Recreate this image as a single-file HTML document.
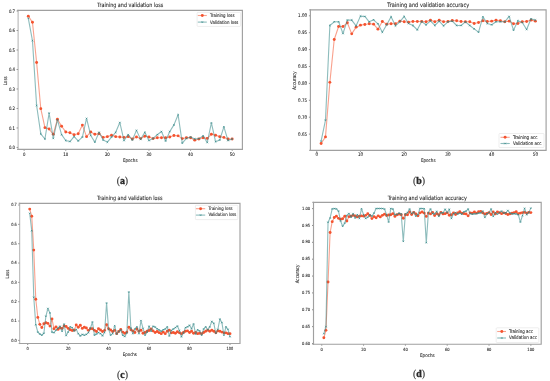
<!DOCTYPE html>
<html><head><meta charset="utf-8"><title>Training and validation curves</title>
<style>
html,body{margin:0;padding:0;background:#fff;}
body{width:550px;height:381px;overflow:hidden;}
svg{display:block;}
svg text{font-family:'DejaVu Sans', 'Liberation Sans', sans-serif;fill:#2a2a2a;stroke:#2a2a2a;stroke-width:0.1px;}
</style></head><body>
<svg width="550" height="381" viewBox="0 0 550 381">
<rect width="550" height="381" fill="#fff"/>
<line x1="16.60" y1="147.45" x2="18.10" y2="147.45" stroke="#606060" stroke-width="0.7"/>
<text x="15.10" y="149.15" text-anchor="end" font-size="4.680" textLength="6.203" lengthAdjust="spacingAndGlyphs">0.0</text>
<line x1="16.60" y1="127.96" x2="18.10" y2="127.96" stroke="#606060" stroke-width="0.7"/>
<text x="15.10" y="129.66" text-anchor="end" font-size="4.680" textLength="6.203" lengthAdjust="spacingAndGlyphs">0.1</text>
<line x1="16.60" y1="108.47" x2="18.10" y2="108.47" stroke="#606060" stroke-width="0.7"/>
<text x="15.10" y="110.17" text-anchor="end" font-size="4.680" textLength="6.203" lengthAdjust="spacingAndGlyphs">0.2</text>
<line x1="16.60" y1="88.98" x2="18.10" y2="88.98" stroke="#606060" stroke-width="0.7"/>
<text x="15.10" y="90.68" text-anchor="end" font-size="4.680" textLength="6.203" lengthAdjust="spacingAndGlyphs">0.3</text>
<line x1="16.60" y1="69.49" x2="18.10" y2="69.49" stroke="#606060" stroke-width="0.7"/>
<text x="15.10" y="71.19" text-anchor="end" font-size="4.680" textLength="6.203" lengthAdjust="spacingAndGlyphs">0.4</text>
<line x1="16.60" y1="50.00" x2="18.10" y2="50.00" stroke="#606060" stroke-width="0.7"/>
<text x="15.10" y="51.70" text-anchor="end" font-size="4.680" textLength="6.203" lengthAdjust="spacingAndGlyphs">0.5</text>
<line x1="16.60" y1="30.51" x2="18.10" y2="30.51" stroke="#606060" stroke-width="0.7"/>
<text x="15.10" y="32.21" text-anchor="end" font-size="4.680" textLength="6.203" lengthAdjust="spacingAndGlyphs">0.6</text>
<line x1="16.60" y1="11.02" x2="18.10" y2="11.02" stroke="#606060" stroke-width="0.7"/>
<text x="15.10" y="12.72" text-anchor="end" font-size="4.680" textLength="6.203" lengthAdjust="spacingAndGlyphs">0.7</text>
<line x1="24.13" y1="149.30" x2="24.13" y2="150.80" stroke="#606060" stroke-width="0.7"/>
<text x="24.13" y="155.60" text-anchor="middle" font-size="4.680" textLength="2.481" lengthAdjust="spacingAndGlyphs">0</text>
<line x1="65.75" y1="149.30" x2="65.75" y2="150.80" stroke="#606060" stroke-width="0.7"/>
<text x="65.75" y="155.60" text-anchor="middle" font-size="4.680" textLength="4.963" lengthAdjust="spacingAndGlyphs">10</text>
<line x1="107.36" y1="149.30" x2="107.36" y2="150.80" stroke="#606060" stroke-width="0.7"/>
<text x="107.36" y="155.60" text-anchor="middle" font-size="4.680" textLength="4.963" lengthAdjust="spacingAndGlyphs">20</text>
<line x1="148.98" y1="149.30" x2="148.98" y2="150.80" stroke="#606060" stroke-width="0.7"/>
<text x="148.98" y="155.60" text-anchor="middle" font-size="4.680" textLength="4.963" lengthAdjust="spacingAndGlyphs">30</text>
<line x1="190.59" y1="149.30" x2="190.59" y2="150.80" stroke="#606060" stroke-width="0.7"/>
<text x="190.59" y="155.60" text-anchor="middle" font-size="4.680" textLength="4.963" lengthAdjust="spacingAndGlyphs">40</text>
<line x1="232.20" y1="149.30" x2="232.20" y2="150.80" stroke="#606060" stroke-width="0.7"/>
<text x="232.20" y="155.60" text-anchor="middle" font-size="4.680" textLength="4.963" lengthAdjust="spacingAndGlyphs">50</text>
<text x="130.25" y="161.98" text-anchor="middle" font-size="4.920" textLength="14.691" lengthAdjust="spacingAndGlyphs">Epochs</text>
<text transform="translate(6.58,80.85) rotate(-90)" text-anchor="middle" font-size="4.920" textLength="8.993" lengthAdjust="spacingAndGlyphs">Loss</text>
<text x="130.25" y="7.25" text-anchor="middle" font-size="5.820" textLength="66.135" lengthAdjust="spacingAndGlyphs">Training and validation loss</text>
<polyline fill="none" stroke="#f4532f" stroke-opacity="0.55" stroke-width="1.1" stroke-linejoin="round" points="28.30,16.15 32.46,22.22 36.62,62.51 40.78,108.67 44.94,127.64 49.10,129.01 53.26,134.29 57.43,119.23 61.59,126.28 65.75,131.95 69.91,132.73 74.07,134.69 78.23,133.71 82.39,125.10 86.56,136.64 90.72,131.95 94.88,134.29 99.04,133.71 103.20,137.42 107.36,136.64 111.52,135.27 115.69,136.64 119.85,137.03 124.01,137.42 128.17,136.64 132.33,138.99 136.49,137.03 140.65,138.60 144.81,136.25 148.98,137.03 153.14,138.60 157.30,137.82 161.46,137.82 165.62,137.82 169.78,137.03 173.94,135.47 178.11,135.86 182.27,138.60 186.43,137.82 190.59,137.82 194.75,140.16 198.91,138.99 203.07,137.82 207.24,138.40 211.40,134.29 215.56,135.27 219.72,136.64 223.88,137.42 228.04,138.99 232.20,138.99"/>
<circle cx="28.30" cy="16.15" r="1.45" fill="#f4532f"/>
<circle cx="32.46" cy="22.22" r="1.45" fill="#f4532f"/>
<circle cx="36.62" cy="62.51" r="1.45" fill="#f4532f"/>
<circle cx="40.78" cy="108.67" r="1.45" fill="#f4532f"/>
<circle cx="44.94" cy="127.64" r="1.45" fill="#f4532f"/>
<circle cx="49.10" cy="129.01" r="1.45" fill="#f4532f"/>
<circle cx="53.26" cy="134.29" r="1.45" fill="#f4532f"/>
<circle cx="57.43" cy="119.23" r="1.45" fill="#f4532f"/>
<circle cx="61.59" cy="126.28" r="1.45" fill="#f4532f"/>
<circle cx="65.75" cy="131.95" r="1.45" fill="#f4532f"/>
<circle cx="69.91" cy="132.73" r="1.45" fill="#f4532f"/>
<circle cx="74.07" cy="134.69" r="1.45" fill="#f4532f"/>
<circle cx="78.23" cy="133.71" r="1.45" fill="#f4532f"/>
<circle cx="82.39" cy="125.10" r="1.45" fill="#f4532f"/>
<circle cx="86.56" cy="136.64" r="1.45" fill="#f4532f"/>
<circle cx="90.72" cy="131.95" r="1.45" fill="#f4532f"/>
<circle cx="94.88" cy="134.29" r="1.45" fill="#f4532f"/>
<circle cx="99.04" cy="133.71" r="1.45" fill="#f4532f"/>
<circle cx="103.20" cy="137.42" r="1.45" fill="#f4532f"/>
<circle cx="107.36" cy="136.64" r="1.45" fill="#f4532f"/>
<circle cx="111.52" cy="135.27" r="1.45" fill="#f4532f"/>
<circle cx="115.69" cy="136.64" r="1.45" fill="#f4532f"/>
<circle cx="119.85" cy="137.03" r="1.45" fill="#f4532f"/>
<circle cx="124.01" cy="137.42" r="1.45" fill="#f4532f"/>
<circle cx="128.17" cy="136.64" r="1.45" fill="#f4532f"/>
<circle cx="132.33" cy="138.99" r="1.45" fill="#f4532f"/>
<circle cx="136.49" cy="137.03" r="1.45" fill="#f4532f"/>
<circle cx="140.65" cy="138.60" r="1.45" fill="#f4532f"/>
<circle cx="144.81" cy="136.25" r="1.45" fill="#f4532f"/>
<circle cx="148.98" cy="137.03" r="1.45" fill="#f4532f"/>
<circle cx="153.14" cy="138.60" r="1.45" fill="#f4532f"/>
<circle cx="157.30" cy="137.82" r="1.45" fill="#f4532f"/>
<circle cx="161.46" cy="137.82" r="1.45" fill="#f4532f"/>
<circle cx="165.62" cy="137.82" r="1.45" fill="#f4532f"/>
<circle cx="169.78" cy="137.03" r="1.45" fill="#f4532f"/>
<circle cx="173.94" cy="135.47" r="1.45" fill="#f4532f"/>
<circle cx="178.11" cy="135.86" r="1.45" fill="#f4532f"/>
<circle cx="182.27" cy="138.60" r="1.45" fill="#f4532f"/>
<circle cx="186.43" cy="137.82" r="1.45" fill="#f4532f"/>
<circle cx="190.59" cy="137.82" r="1.45" fill="#f4532f"/>
<circle cx="194.75" cy="140.16" r="1.45" fill="#f4532f"/>
<circle cx="198.91" cy="138.99" r="1.45" fill="#f4532f"/>
<circle cx="203.07" cy="137.82" r="1.45" fill="#f4532f"/>
<circle cx="207.24" cy="138.40" r="1.45" fill="#f4532f"/>
<circle cx="211.40" cy="134.29" r="1.45" fill="#f4532f"/>
<circle cx="215.56" cy="135.27" r="1.45" fill="#f4532f"/>
<circle cx="219.72" cy="136.64" r="1.45" fill="#f4532f"/>
<circle cx="223.88" cy="137.42" r="1.45" fill="#f4532f"/>
<circle cx="228.04" cy="138.99" r="1.45" fill="#f4532f"/>
<circle cx="232.20" cy="138.99" r="1.45" fill="#f4532f"/>
<polyline fill="none" stroke="#2f8585" stroke-opacity="0.55" stroke-width="1.1" stroke-linejoin="round" points="28.30,18.30 32.46,40.60 36.62,105.54 40.78,133.90 44.94,138.99 49.10,113.17 53.26,138.40 57.43,119.82 61.59,134.69 65.75,140.55 69.91,141.53 74.07,136.64 78.23,140.95 82.39,137.03 86.56,118.45 90.72,135.47 94.88,142.12 99.04,132.34 103.20,139.97 107.36,142.12 111.52,137.03 115.69,132.34 119.85,122.56 124.01,140.55 128.17,134.69 132.33,139.97 136.49,130.38 140.65,139.38 144.81,132.34 148.98,140.55 153.14,138.40 157.30,134.69 161.46,131.56 165.62,140.95 169.78,131.56 173.94,124.91 178.11,114.73 182.27,143.10 186.43,138.40 190.59,137.03 194.75,138.99 198.91,138.60 203.07,135.86 207.24,142.51 211.40,122.95 215.56,141.73 219.72,139.97 223.88,126.86 228.04,140.55 232.20,138.99"/>
<path d="M27.50 17.50L29.10 19.10M27.50 19.10L29.10 17.50M31.66 39.80L33.26 41.40M31.66 41.40L33.26 39.80M35.82 104.74L37.42 106.34M35.82 106.34L37.42 104.74M39.98 133.10L41.58 134.70M39.98 134.70L41.58 133.10M44.14 138.19L45.74 139.79M44.14 139.79L45.74 138.19M48.30 112.37L49.90 113.97M48.30 113.97L49.90 112.37M52.46 137.60L54.06 139.20M52.46 139.20L54.06 137.60M56.63 119.02L58.23 120.62M56.63 120.62L58.23 119.02M60.79 133.89L62.39 135.49M60.79 135.49L62.39 133.89M64.95 139.75L66.55 141.35M64.95 141.35L66.55 139.75M69.11 140.73L70.71 142.33M69.11 142.33L70.71 140.73M73.27 135.84L74.87 137.44M73.27 137.44L74.87 135.84M77.43 140.15L79.03 141.75M77.43 141.75L79.03 140.15M81.59 136.23L83.19 137.83M81.59 137.83L83.19 136.23M85.76 117.65L87.36 119.25M85.76 119.25L87.36 117.65M89.92 134.67L91.52 136.27M89.92 136.27L91.52 134.67M94.08 141.32L95.68 142.92M94.08 142.92L95.68 141.32M98.24 131.54L99.84 133.14M98.24 133.14L99.84 131.54M102.40 139.17L104.00 140.77M102.40 140.77L104.00 139.17M106.56 141.32L108.16 142.92M106.56 142.92L108.16 141.32M110.72 136.23L112.32 137.83M110.72 137.83L112.32 136.23M114.89 131.54L116.49 133.14M114.89 133.14L116.49 131.54M119.05 121.76L120.65 123.36M119.05 123.36L120.65 121.76M123.21 139.75L124.81 141.35M123.21 141.35L124.81 139.75M127.37 133.89L128.97 135.49M127.37 135.49L128.97 133.89M131.53 139.17L133.13 140.77M131.53 140.77L133.13 139.17M135.69 129.58L137.29 131.18M135.69 131.18L137.29 129.58M139.85 138.58L141.45 140.18M139.85 140.18L141.45 138.58M144.01 131.54L145.61 133.14M144.01 133.14L145.61 131.54M148.18 139.75L149.78 141.35M148.18 141.35L149.78 139.75M152.34 137.60L153.94 139.20M152.34 139.20L153.94 137.60M156.50 133.89L158.10 135.49M156.50 135.49L158.10 133.89M160.66 130.76L162.26 132.36M160.66 132.36L162.26 130.76M164.82 140.15L166.42 141.75M164.82 141.75L166.42 140.15M168.98 130.76L170.58 132.36M168.98 132.36L170.58 130.76M173.14 124.11L174.74 125.71M173.14 125.71L174.74 124.11M177.31 113.93L178.91 115.53M177.31 115.53L178.91 113.93M181.47 142.30L183.07 143.90M181.47 143.90L183.07 142.30M185.63 137.60L187.23 139.20M185.63 139.20L187.23 137.60M189.79 136.23L191.39 137.83M189.79 137.83L191.39 136.23M193.95 138.19L195.55 139.79M193.95 139.79L195.55 138.19M198.11 137.80L199.71 139.40M198.11 139.40L199.71 137.80M202.27 135.06L203.87 136.66M202.27 136.66L203.87 135.06M206.44 141.71L208.04 143.31M206.44 143.31L208.04 141.71M210.60 122.15L212.20 123.75M210.60 123.75L212.20 122.15M214.76 140.93L216.36 142.53M214.76 142.53L216.36 140.93M218.92 139.17L220.52 140.77M218.92 140.77L220.52 139.17M223.08 126.06L224.68 127.66M223.08 127.66L224.68 126.06M227.24 139.75L228.84 141.35M227.24 141.35L228.84 139.75M231.40 138.19L233.00 139.79M231.40 139.79L233.00 138.19" stroke="#2f8585" stroke-width="0.6" fill="none"/>
<rect x="197.1" y="12.4" width="43.5" height="13.999999999999998" rx="0.8" fill="#fff" fill-opacity="0.85" stroke="#dcdcdc" stroke-width="0.5"/>
<line x1="197.8" y1="15.5" x2="206.8" y2="15.5" stroke="#f4532f" stroke-opacity="0.55" stroke-width="1.1"/>
<circle cx="202.3" cy="15.5" r="1.45" fill="#f4532f"/>
<line x1="197.8" y1="22.1" x2="206.8" y2="22.1" stroke="#2f8585" stroke-opacity="0.55" stroke-width="1.1"/>
<path d="M201.5 21.3L203.10000000000002 22.900000000000002M201.5 22.900000000000002L203.10000000000002 21.3" stroke="#2f8585" stroke-width="0.6"/>
<text x="210.00" y="16.92" font-size="4.740" textLength="24.472" lengthAdjust="spacingAndGlyphs">Training loss</text>
<text x="210.00" y="23.52" font-size="4.740" textLength="28.391" lengthAdjust="spacingAndGlyphs">Validation loss</text>
<path d="M17.68 10.40H242.40V149.30H17.68" fill="none" stroke="#a0a0a0" stroke-width="1.15" stroke-linecap="square"/>
<line x1="18.10" y1="9.83" x2="18.10" y2="149.88" stroke="#a0a0a0" stroke-width="0.85"/>
<text x="122.4" y="183.90" text-anchor="middle" style="font-family:'Liberation Serif', serif" font-size="9.9" fill="#111">(<tspan font-weight="bold" style="stroke-width:0.35px">a</tspan>)</text>
<line x1="308.90" y1="134.10" x2="310.40" y2="134.10" stroke="#606060" stroke-width="0.7"/>
<text x="307.10" y="135.56" text-anchor="end" font-size="4.860" textLength="9.018" lengthAdjust="spacingAndGlyphs">0.65</text>
<line x1="308.90" y1="117.20" x2="310.40" y2="117.20" stroke="#606060" stroke-width="0.7"/>
<text x="307.10" y="118.66" text-anchor="end" font-size="4.860" textLength="9.018" lengthAdjust="spacingAndGlyphs">0.70</text>
<line x1="308.90" y1="100.30" x2="310.40" y2="100.30" stroke="#606060" stroke-width="0.7"/>
<text x="307.10" y="101.76" text-anchor="end" font-size="4.860" textLength="9.018" lengthAdjust="spacingAndGlyphs">0.75</text>
<line x1="308.90" y1="83.40" x2="310.40" y2="83.40" stroke="#606060" stroke-width="0.7"/>
<text x="307.10" y="84.86" text-anchor="end" font-size="4.860" textLength="9.018" lengthAdjust="spacingAndGlyphs">0.80</text>
<line x1="308.90" y1="66.50" x2="310.40" y2="66.50" stroke="#606060" stroke-width="0.7"/>
<text x="307.10" y="67.96" text-anchor="end" font-size="4.860" textLength="9.018" lengthAdjust="spacingAndGlyphs">0.85</text>
<line x1="308.90" y1="49.60" x2="310.40" y2="49.60" stroke="#606060" stroke-width="0.7"/>
<text x="307.10" y="51.06" text-anchor="end" font-size="4.860" textLength="9.018" lengthAdjust="spacingAndGlyphs">0.90</text>
<line x1="308.90" y1="32.70" x2="310.40" y2="32.70" stroke="#606060" stroke-width="0.7"/>
<text x="307.10" y="34.16" text-anchor="end" font-size="4.860" textLength="9.018" lengthAdjust="spacingAndGlyphs">0.95</text>
<line x1="308.90" y1="15.80" x2="310.40" y2="15.80" stroke="#606060" stroke-width="0.7"/>
<text x="307.10" y="17.26" text-anchor="end" font-size="4.860" textLength="9.018" lengthAdjust="spacingAndGlyphs">1.00</text>
<line x1="316.74" y1="150.30" x2="316.74" y2="151.80" stroke="#606060" stroke-width="0.7"/>
<text x="316.74" y="156.26" text-anchor="middle" font-size="4.860" textLength="2.577" lengthAdjust="spacingAndGlyphs">0</text>
<line x1="360.47" y1="150.30" x2="360.47" y2="151.80" stroke="#606060" stroke-width="0.7"/>
<text x="360.47" y="156.26" text-anchor="middle" font-size="4.860" textLength="5.154" lengthAdjust="spacingAndGlyphs">10</text>
<line x1="404.20" y1="150.30" x2="404.20" y2="151.80" stroke="#606060" stroke-width="0.7"/>
<text x="404.20" y="156.26" text-anchor="middle" font-size="4.860" textLength="5.154" lengthAdjust="spacingAndGlyphs">20</text>
<line x1="447.93" y1="150.30" x2="447.93" y2="151.80" stroke="#606060" stroke-width="0.7"/>
<text x="447.93" y="156.26" text-anchor="middle" font-size="4.860" textLength="5.154" lengthAdjust="spacingAndGlyphs">30</text>
<line x1="491.66" y1="150.30" x2="491.66" y2="151.80" stroke="#606060" stroke-width="0.7"/>
<text x="491.66" y="156.26" text-anchor="middle" font-size="4.860" textLength="5.154" lengthAdjust="spacingAndGlyphs">40</text>
<line x1="535.39" y1="150.30" x2="535.39" y2="151.80" stroke="#606060" stroke-width="0.7"/>
<text x="535.39" y="156.26" text-anchor="middle" font-size="4.860" textLength="5.154" lengthAdjust="spacingAndGlyphs">50</text>
<text x="428.25" y="162.48" text-anchor="middle" font-size="4.920" textLength="14.691" lengthAdjust="spacingAndGlyphs">Epochs</text>
<text transform="translate(295.68,80.75) rotate(-90)" text-anchor="middle" font-size="4.920" textLength="18.719" lengthAdjust="spacingAndGlyphs">Accuracy</text>
<text x="428.25" y="6.72" text-anchor="middle" font-size="6.060" textLength="81.892" lengthAdjust="spacingAndGlyphs">Training and validation accuracy</text>
<polyline fill="none" stroke="#f4532f" stroke-opacity="0.55" stroke-width="1.1" stroke-linejoin="round" points="321.11,143.57 325.49,136.88 329.86,82.35 334.23,39.54 338.61,26.49 342.98,26.49 347.35,22.81 351.72,33.85 356.10,27.16 360.47,25.15 364.84,24.48 369.22,23.81 373.59,24.15 377.96,29.17 382.33,21.47 386.71,24.15 391.08,23.81 395.45,23.81 399.83,21.14 404.20,21.81 408.57,22.14 412.94,21.47 417.32,21.47 421.69,21.47 426.06,21.81 430.44,20.13 434.81,21.81 439.18,20.13 443.56,21.81 447.93,21.47 452.30,20.47 456.67,20.80 461.05,21.47 465.42,21.81 469.79,21.81 474.17,23.48 478.54,22.48 482.91,20.80 487.28,21.47 491.66,21.14 496.03,20.13 500.40,20.80 504.78,21.81 509.15,21.14 513.52,23.81 517.89,23.48 522.27,21.81 526.64,21.47 531.01,20.13 535.39,21.14"/>
<circle cx="321.11" cy="143.57" r="1.45" fill="#f4532f"/>
<circle cx="325.49" cy="136.88" r="1.45" fill="#f4532f"/>
<circle cx="329.86" cy="82.35" r="1.45" fill="#f4532f"/>
<circle cx="334.23" cy="39.54" r="1.45" fill="#f4532f"/>
<circle cx="338.61" cy="26.49" r="1.45" fill="#f4532f"/>
<circle cx="342.98" cy="26.49" r="1.45" fill="#f4532f"/>
<circle cx="347.35" cy="22.81" r="1.45" fill="#f4532f"/>
<circle cx="351.72" cy="33.85" r="1.45" fill="#f4532f"/>
<circle cx="356.10" cy="27.16" r="1.45" fill="#f4532f"/>
<circle cx="360.47" cy="25.15" r="1.45" fill="#f4532f"/>
<circle cx="364.84" cy="24.48" r="1.45" fill="#f4532f"/>
<circle cx="369.22" cy="23.81" r="1.45" fill="#f4532f"/>
<circle cx="373.59" cy="24.15" r="1.45" fill="#f4532f"/>
<circle cx="377.96" cy="29.17" r="1.45" fill="#f4532f"/>
<circle cx="382.33" cy="21.47" r="1.45" fill="#f4532f"/>
<circle cx="386.71" cy="24.15" r="1.45" fill="#f4532f"/>
<circle cx="391.08" cy="23.81" r="1.45" fill="#f4532f"/>
<circle cx="395.45" cy="23.81" r="1.45" fill="#f4532f"/>
<circle cx="399.83" cy="21.14" r="1.45" fill="#f4532f"/>
<circle cx="404.20" cy="21.81" r="1.45" fill="#f4532f"/>
<circle cx="408.57" cy="22.14" r="1.45" fill="#f4532f"/>
<circle cx="412.94" cy="21.47" r="1.45" fill="#f4532f"/>
<circle cx="417.32" cy="21.47" r="1.45" fill="#f4532f"/>
<circle cx="421.69" cy="21.47" r="1.45" fill="#f4532f"/>
<circle cx="426.06" cy="21.81" r="1.45" fill="#f4532f"/>
<circle cx="430.44" cy="20.13" r="1.45" fill="#f4532f"/>
<circle cx="434.81" cy="21.81" r="1.45" fill="#f4532f"/>
<circle cx="439.18" cy="20.13" r="1.45" fill="#f4532f"/>
<circle cx="443.56" cy="21.81" r="1.45" fill="#f4532f"/>
<circle cx="447.93" cy="21.47" r="1.45" fill="#f4532f"/>
<circle cx="452.30" cy="20.47" r="1.45" fill="#f4532f"/>
<circle cx="456.67" cy="20.80" r="1.45" fill="#f4532f"/>
<circle cx="461.05" cy="21.47" r="1.45" fill="#f4532f"/>
<circle cx="465.42" cy="21.81" r="1.45" fill="#f4532f"/>
<circle cx="469.79" cy="21.81" r="1.45" fill="#f4532f"/>
<circle cx="474.17" cy="23.48" r="1.45" fill="#f4532f"/>
<circle cx="478.54" cy="22.48" r="1.45" fill="#f4532f"/>
<circle cx="482.91" cy="20.80" r="1.45" fill="#f4532f"/>
<circle cx="487.28" cy="21.47" r="1.45" fill="#f4532f"/>
<circle cx="491.66" cy="21.14" r="1.45" fill="#f4532f"/>
<circle cx="496.03" cy="20.13" r="1.45" fill="#f4532f"/>
<circle cx="500.40" cy="20.80" r="1.45" fill="#f4532f"/>
<circle cx="504.78" cy="21.81" r="1.45" fill="#f4532f"/>
<circle cx="509.15" cy="21.14" r="1.45" fill="#f4532f"/>
<circle cx="513.52" cy="23.81" r="1.45" fill="#f4532f"/>
<circle cx="517.89" cy="23.48" r="1.45" fill="#f4532f"/>
<circle cx="522.27" cy="21.81" r="1.45" fill="#f4532f"/>
<circle cx="526.64" cy="21.47" r="1.45" fill="#f4532f"/>
<circle cx="531.01" cy="20.13" r="1.45" fill="#f4532f"/>
<circle cx="535.39" cy="21.14" r="1.45" fill="#f4532f"/>
<polyline fill="none" stroke="#2f8585" stroke-opacity="0.55" stroke-width="1.1" stroke-linejoin="round" points="321.11,141.22 325.49,120.15 329.86,25.49 334.23,21.81 338.61,21.81 342.98,33.51 347.35,20.13 351.72,20.13 356.10,25.82 360.47,16.12 364.84,16.46 369.22,21.81 373.59,19.80 377.96,23.81 382.33,32.18 386.71,24.82 391.08,16.79 395.45,25.82 399.83,21.81 404.20,16.46 408.57,23.48 412.94,25.49 417.32,29.84 421.69,21.47 426.06,24.82 430.44,20.80 434.81,25.49 439.18,21.14 443.56,25.82 447.93,21.81 452.30,21.14 456.67,25.49 461.05,25.49 465.42,21.81 469.79,25.49 474.17,28.83 478.54,32.18 482.91,16.79 487.28,23.48 491.66,24.82 496.03,21.81 500.40,21.81 504.78,21.81 509.15,16.46 513.52,30.17 517.89,20.80 522.27,22.48 526.64,29.50 531.01,18.80 535.39,20.13"/>
<path d="M320.31 140.42L321.91 142.02M320.31 142.02L321.91 140.42M324.69 119.35L326.29 120.95M324.69 120.95L326.29 119.35M329.06 24.69L330.66 26.29M329.06 26.29L330.66 24.69M333.43 21.01L335.03 22.61M333.43 22.61L335.03 21.01M337.81 21.01L339.41 22.61M337.81 22.61L339.41 21.01M342.18 32.71L343.78 34.31M342.18 34.31L343.78 32.71M346.55 19.33L348.15 20.93M346.55 20.93L348.15 19.33M350.92 19.33L352.52 20.93M350.92 20.93L352.52 19.33M355.30 25.02L356.90 26.62M355.30 26.62L356.90 25.02M359.67 15.32L361.27 16.92M359.67 16.92L361.27 15.32M364.04 15.66L365.64 17.26M364.04 17.26L365.64 15.66M368.42 21.01L370.02 22.61M368.42 22.61L370.02 21.01M372.79 19.00L374.39 20.60M372.79 20.60L374.39 19.00M377.16 23.01L378.76 24.61M377.16 24.61L378.76 23.01M381.53 31.38L383.13 32.98M381.53 32.98L383.13 31.38M385.91 24.02L387.51 25.62M385.91 25.62L387.51 24.02M390.28 15.99L391.88 17.59M390.28 17.59L391.88 15.99M394.65 25.02L396.25 26.62M394.65 26.62L396.25 25.02M399.03 21.01L400.63 22.61M399.03 22.61L400.63 21.01M403.40 15.66L405.00 17.26M403.40 17.26L405.00 15.66M407.77 22.68L409.37 24.28M407.77 24.28L409.37 22.68M412.14 24.69L413.74 26.29M412.14 26.29L413.74 24.69M416.52 29.04L418.12 30.64M416.52 30.64L418.12 29.04M420.89 20.67L422.49 22.27M420.89 22.27L422.49 20.67M425.26 24.02L426.86 25.62M425.26 25.62L426.86 24.02M429.64 20.00L431.24 21.60M429.64 21.60L431.24 20.00M434.01 24.69L435.61 26.29M434.01 26.29L435.61 24.69M438.38 20.34L439.98 21.94M438.38 21.94L439.98 20.34M442.76 25.02L444.36 26.62M442.76 26.62L444.36 25.02M447.13 21.01L448.73 22.61M447.13 22.61L448.73 21.01M451.50 20.34L453.10 21.94M451.50 21.94L453.10 20.34M455.87 24.69L457.47 26.29M455.87 26.29L457.47 24.69M460.25 24.69L461.85 26.29M460.25 26.29L461.85 24.69M464.62 21.01L466.22 22.61M464.62 22.61L466.22 21.01M468.99 24.69L470.59 26.29M468.99 26.29L470.59 24.69M473.37 28.03L474.97 29.63M473.37 29.63L474.97 28.03M477.74 31.38L479.34 32.98M477.74 32.98L479.34 31.38M482.11 15.99L483.71 17.59M482.11 17.59L483.71 15.99M486.48 22.68L488.08 24.28M486.48 24.28L488.08 22.68M490.86 24.02L492.46 25.62M490.86 25.62L492.46 24.02M495.23 21.01L496.83 22.61M495.23 22.61L496.83 21.01M499.60 21.01L501.20 22.61M499.60 22.61L501.20 21.01M503.98 21.01L505.58 22.61M503.98 22.61L505.58 21.01M508.35 15.66L509.95 17.26M508.35 17.26L509.95 15.66M512.72 29.37L514.32 30.97M512.72 30.97L514.32 29.37M517.09 20.00L518.69 21.60M517.09 21.60L518.69 20.00M521.47 21.68L523.07 23.28M521.47 23.28L523.07 21.68M525.84 28.70L527.44 30.30M525.84 30.30L527.44 28.70M530.21 18.00L531.81 19.60M530.21 19.60L531.81 18.00M534.59 19.33L536.19 20.93M534.59 20.93L536.19 19.33" stroke="#2f8585" stroke-width="0.6" fill="none"/>
<rect x="499.0" y="133.5" width="45.0" height="14.0" rx="0.8" fill="#fff" fill-opacity="0.85" stroke="#dcdcdc" stroke-width="0.5"/>
<line x1="500.5" y1="137.3" x2="509.8" y2="137.3" stroke="#f4532f" stroke-opacity="0.55" stroke-width="1.1"/>
<circle cx="505.1" cy="137.3" r="1.45" fill="#f4532f"/>
<line x1="500.5" y1="143.5" x2="509.8" y2="143.5" stroke="#2f8585" stroke-opacity="0.55" stroke-width="1.1"/>
<path d="M504.3 142.7L505.90000000000003 144.3M504.3 144.3L505.90000000000003 142.7" stroke="#2f8585" stroke-width="0.6"/>
<text x="513.00" y="138.78" font-size="4.920" textLength="24.503" lengthAdjust="spacingAndGlyphs">Training acc</text>
<text x="513.00" y="144.98" font-size="4.920" textLength="28.570" lengthAdjust="spacingAndGlyphs">Validation acc</text>
<path d="M309.82 9.80H546.10V150.30H309.82" fill="none" stroke="#a0a0a0" stroke-width="1.15" stroke-linecap="square"/>
<line x1="310.40" y1="9.23" x2="310.40" y2="150.88" stroke="#a0a0a0" stroke-width="1.15"/>
<text x="419.0" y="183.90" text-anchor="middle" style="font-family:'Liberation Serif', serif" font-size="9.9" fill="#111">(<tspan font-weight="bold" style="stroke-width:0.35px">b</tspan>)</text>
<line x1="18.20" y1="340.40" x2="19.70" y2="340.40" stroke="#606060" stroke-width="0.7"/>
<text x="16.80" y="341.58" text-anchor="end" font-size="4.260" textLength="5.646" lengthAdjust="spacingAndGlyphs">0.0</text>
<line x1="18.20" y1="321.06" x2="19.70" y2="321.06" stroke="#606060" stroke-width="0.7"/>
<text x="16.80" y="322.24" text-anchor="end" font-size="4.260" textLength="5.646" lengthAdjust="spacingAndGlyphs">0.1</text>
<line x1="18.20" y1="301.72" x2="19.70" y2="301.72" stroke="#606060" stroke-width="0.7"/>
<text x="16.80" y="302.90" text-anchor="end" font-size="4.260" textLength="5.646" lengthAdjust="spacingAndGlyphs">0.2</text>
<line x1="18.20" y1="282.38" x2="19.70" y2="282.38" stroke="#606060" stroke-width="0.7"/>
<text x="16.80" y="283.56" text-anchor="end" font-size="4.260" textLength="5.646" lengthAdjust="spacingAndGlyphs">0.3</text>
<line x1="18.20" y1="263.04" x2="19.70" y2="263.04" stroke="#606060" stroke-width="0.7"/>
<text x="16.80" y="264.22" text-anchor="end" font-size="4.260" textLength="5.646" lengthAdjust="spacingAndGlyphs">0.4</text>
<line x1="18.20" y1="243.70" x2="19.70" y2="243.70" stroke="#606060" stroke-width="0.7"/>
<text x="16.80" y="244.88" text-anchor="end" font-size="4.260" textLength="5.646" lengthAdjust="spacingAndGlyphs">0.5</text>
<line x1="18.20" y1="224.36" x2="19.70" y2="224.36" stroke="#606060" stroke-width="0.7"/>
<text x="16.80" y="225.54" text-anchor="end" font-size="4.260" textLength="5.646" lengthAdjust="spacingAndGlyphs">0.6</text>
<line x1="18.20" y1="205.02" x2="19.70" y2="205.02" stroke="#606060" stroke-width="0.7"/>
<text x="16.80" y="206.20" text-anchor="end" font-size="4.260" textLength="5.646" lengthAdjust="spacingAndGlyphs">0.7</text>
<line x1="27.69" y1="343.50" x2="27.69" y2="345.00" stroke="#606060" stroke-width="0.7"/>
<text x="27.69" y="349.58" text-anchor="middle" font-size="4.260" textLength="2.259" lengthAdjust="spacingAndGlyphs">0</text>
<line x1="68.15" y1="343.50" x2="68.15" y2="345.00" stroke="#606060" stroke-width="0.7"/>
<text x="68.15" y="349.58" text-anchor="middle" font-size="4.260" textLength="4.517" lengthAdjust="spacingAndGlyphs">20</text>
<line x1="108.61" y1="343.50" x2="108.61" y2="345.00" stroke="#606060" stroke-width="0.7"/>
<text x="108.61" y="349.58" text-anchor="middle" font-size="4.260" textLength="4.517" lengthAdjust="spacingAndGlyphs">40</text>
<line x1="149.07" y1="343.50" x2="149.07" y2="345.00" stroke="#606060" stroke-width="0.7"/>
<text x="149.07" y="349.58" text-anchor="middle" font-size="4.260" textLength="4.517" lengthAdjust="spacingAndGlyphs">60</text>
<line x1="189.53" y1="343.50" x2="189.53" y2="345.00" stroke="#606060" stroke-width="0.7"/>
<text x="189.53" y="349.58" text-anchor="middle" font-size="4.260" textLength="4.517" lengthAdjust="spacingAndGlyphs">80</text>
<line x1="229.99" y1="343.50" x2="229.99" y2="345.00" stroke="#606060" stroke-width="0.7"/>
<text x="229.99" y="349.58" text-anchor="middle" font-size="4.260" textLength="6.776" lengthAdjust="spacingAndGlyphs">100</text>
<text x="129.85" y="355.82" text-anchor="middle" font-size="4.740" textLength="14.153" lengthAdjust="spacingAndGlyphs">Epochs</text>
<text transform="translate(8.92,274.10) rotate(-90)" text-anchor="middle" font-size="4.740" textLength="8.664" lengthAdjust="spacingAndGlyphs">Loss</text>
<text x="129.85" y="200.23" text-anchor="middle" font-size="5.760" textLength="65.453" lengthAdjust="spacingAndGlyphs">Training and validation loss</text>
<polyline fill="none" stroke="#f4532f" stroke-opacity="0.55" stroke-width="1.1" stroke-linejoin="round" points="29.71,209.08 31.74,216.24 33.76,250.08 35.78,299.21 37.81,317.39 39.83,324.35 41.85,327.44 43.87,323.77 45.90,322.80 47.92,323.38 49.94,326.09 51.97,318.93 53.99,328.80 56.01,326.86 58.04,329.38 60.06,328.02 62.08,328.41 64.10,325.89 66.13,326.48 68.15,328.41 70.17,329.76 72.20,330.54 74.22,330.15 76.24,324.93 78.26,327.25 80.29,325.31 82.31,328.41 84.33,327.25 86.36,328.02 88.38,330.34 90.40,328.80 92.43,328.80 94.45,330.34 96.47,331.50 98.49,328.80 100.52,329.96 102.54,331.50 104.56,330.34 106.59,324.73 108.61,328.80 110.63,329.96 112.65,331.50 114.68,330.34 116.70,333.63 118.72,331.50 120.75,329.38 122.77,332.08 124.79,333.24 126.82,332.08 128.84,327.25 130.86,329.76 132.88,330.92 134.91,332.47 136.93,328.99 138.95,331.31 140.98,330.15 143.00,333.24 145.02,332.47 147.05,331.31 149.07,330.54 151.09,328.99 153.11,330.92 155.14,332.47 157.16,331.50 159.18,332.66 161.21,333.63 163.23,332.08 165.25,333.63 167.27,331.31 169.30,330.15 171.32,332.86 173.34,332.47 175.37,333.24 177.39,331.70 179.41,332.86 181.44,333.63 183.46,332.47 185.48,331.31 187.50,330.92 189.53,332.47 191.55,331.31 193.57,333.24 195.60,332.47 197.62,333.63 199.64,333.24 201.66,333.63 203.69,332.47 205.71,331.31 207.73,330.15 209.76,331.31 211.78,330.15 213.80,331.31 215.83,332.86 217.85,330.92 219.87,331.31 221.89,332.08 223.92,332.86 225.94,332.86 227.96,333.63 229.99,333.63"/>
<circle cx="29.71" cy="209.08" r="1.45" fill="#f4532f"/>
<circle cx="31.74" cy="216.24" r="1.45" fill="#f4532f"/>
<circle cx="33.76" cy="250.08" r="1.45" fill="#f4532f"/>
<circle cx="35.78" cy="299.21" r="1.45" fill="#f4532f"/>
<circle cx="37.81" cy="317.39" r="1.45" fill="#f4532f"/>
<circle cx="39.83" cy="324.35" r="1.45" fill="#f4532f"/>
<circle cx="41.85" cy="327.44" r="1.45" fill="#f4532f"/>
<circle cx="43.87" cy="323.77" r="1.45" fill="#f4532f"/>
<circle cx="45.90" cy="322.80" r="1.45" fill="#f4532f"/>
<circle cx="47.92" cy="323.38" r="1.45" fill="#f4532f"/>
<circle cx="49.94" cy="326.09" r="1.45" fill="#f4532f"/>
<circle cx="51.97" cy="318.93" r="1.45" fill="#f4532f"/>
<circle cx="53.99" cy="328.80" r="1.45" fill="#f4532f"/>
<circle cx="56.01" cy="326.86" r="1.45" fill="#f4532f"/>
<circle cx="58.04" cy="329.38" r="1.45" fill="#f4532f"/>
<circle cx="60.06" cy="328.02" r="1.45" fill="#f4532f"/>
<circle cx="62.08" cy="328.41" r="1.45" fill="#f4532f"/>
<circle cx="64.10" cy="325.89" r="1.45" fill="#f4532f"/>
<circle cx="66.13" cy="326.48" r="1.45" fill="#f4532f"/>
<circle cx="68.15" cy="328.41" r="1.45" fill="#f4532f"/>
<circle cx="70.17" cy="329.76" r="1.45" fill="#f4532f"/>
<circle cx="72.20" cy="330.54" r="1.45" fill="#f4532f"/>
<circle cx="74.22" cy="330.15" r="1.45" fill="#f4532f"/>
<circle cx="76.24" cy="324.93" r="1.45" fill="#f4532f"/>
<circle cx="78.26" cy="327.25" r="1.45" fill="#f4532f"/>
<circle cx="80.29" cy="325.31" r="1.45" fill="#f4532f"/>
<circle cx="82.31" cy="328.41" r="1.45" fill="#f4532f"/>
<circle cx="84.33" cy="327.25" r="1.45" fill="#f4532f"/>
<circle cx="86.36" cy="328.02" r="1.45" fill="#f4532f"/>
<circle cx="88.38" cy="330.34" r="1.45" fill="#f4532f"/>
<circle cx="90.40" cy="328.80" r="1.45" fill="#f4532f"/>
<circle cx="92.43" cy="328.80" r="1.45" fill="#f4532f"/>
<circle cx="94.45" cy="330.34" r="1.45" fill="#f4532f"/>
<circle cx="96.47" cy="331.50" r="1.45" fill="#f4532f"/>
<circle cx="98.49" cy="328.80" r="1.45" fill="#f4532f"/>
<circle cx="100.52" cy="329.96" r="1.45" fill="#f4532f"/>
<circle cx="102.54" cy="331.50" r="1.45" fill="#f4532f"/>
<circle cx="104.56" cy="330.34" r="1.45" fill="#f4532f"/>
<circle cx="106.59" cy="324.73" r="1.45" fill="#f4532f"/>
<circle cx="108.61" cy="328.80" r="1.45" fill="#f4532f"/>
<circle cx="110.63" cy="329.96" r="1.45" fill="#f4532f"/>
<circle cx="112.65" cy="331.50" r="1.45" fill="#f4532f"/>
<circle cx="114.68" cy="330.34" r="1.45" fill="#f4532f"/>
<circle cx="116.70" cy="333.63" r="1.45" fill="#f4532f"/>
<circle cx="118.72" cy="331.50" r="1.45" fill="#f4532f"/>
<circle cx="120.75" cy="329.38" r="1.45" fill="#f4532f"/>
<circle cx="122.77" cy="332.08" r="1.45" fill="#f4532f"/>
<circle cx="124.79" cy="333.24" r="1.45" fill="#f4532f"/>
<circle cx="126.82" cy="332.08" r="1.45" fill="#f4532f"/>
<circle cx="128.84" cy="327.25" r="1.45" fill="#f4532f"/>
<circle cx="130.86" cy="329.76" r="1.45" fill="#f4532f"/>
<circle cx="132.88" cy="330.92" r="1.45" fill="#f4532f"/>
<circle cx="134.91" cy="332.47" r="1.45" fill="#f4532f"/>
<circle cx="136.93" cy="328.99" r="1.45" fill="#f4532f"/>
<circle cx="138.95" cy="331.31" r="1.45" fill="#f4532f"/>
<circle cx="140.98" cy="330.15" r="1.45" fill="#f4532f"/>
<circle cx="143.00" cy="333.24" r="1.45" fill="#f4532f"/>
<circle cx="145.02" cy="332.47" r="1.45" fill="#f4532f"/>
<circle cx="147.05" cy="331.31" r="1.45" fill="#f4532f"/>
<circle cx="149.07" cy="330.54" r="1.45" fill="#f4532f"/>
<circle cx="151.09" cy="328.99" r="1.45" fill="#f4532f"/>
<circle cx="153.11" cy="330.92" r="1.45" fill="#f4532f"/>
<circle cx="155.14" cy="332.47" r="1.45" fill="#f4532f"/>
<circle cx="157.16" cy="331.50" r="1.45" fill="#f4532f"/>
<circle cx="159.18" cy="332.66" r="1.45" fill="#f4532f"/>
<circle cx="161.21" cy="333.63" r="1.45" fill="#f4532f"/>
<circle cx="163.23" cy="332.08" r="1.45" fill="#f4532f"/>
<circle cx="165.25" cy="333.63" r="1.45" fill="#f4532f"/>
<circle cx="167.27" cy="331.31" r="1.45" fill="#f4532f"/>
<circle cx="169.30" cy="330.15" r="1.45" fill="#f4532f"/>
<circle cx="171.32" cy="332.86" r="1.45" fill="#f4532f"/>
<circle cx="173.34" cy="332.47" r="1.45" fill="#f4532f"/>
<circle cx="175.37" cy="333.24" r="1.45" fill="#f4532f"/>
<circle cx="177.39" cy="331.70" r="1.45" fill="#f4532f"/>
<circle cx="179.41" cy="332.86" r="1.45" fill="#f4532f"/>
<circle cx="181.44" cy="333.63" r="1.45" fill="#f4532f"/>
<circle cx="183.46" cy="332.47" r="1.45" fill="#f4532f"/>
<circle cx="185.48" cy="331.31" r="1.45" fill="#f4532f"/>
<circle cx="187.50" cy="330.92" r="1.45" fill="#f4532f"/>
<circle cx="189.53" cy="332.47" r="1.45" fill="#f4532f"/>
<circle cx="191.55" cy="331.31" r="1.45" fill="#f4532f"/>
<circle cx="193.57" cy="333.24" r="1.45" fill="#f4532f"/>
<circle cx="195.60" cy="332.47" r="1.45" fill="#f4532f"/>
<circle cx="197.62" cy="333.63" r="1.45" fill="#f4532f"/>
<circle cx="199.64" cy="333.24" r="1.45" fill="#f4532f"/>
<circle cx="201.66" cy="333.63" r="1.45" fill="#f4532f"/>
<circle cx="203.69" cy="332.47" r="1.45" fill="#f4532f"/>
<circle cx="205.71" cy="331.31" r="1.45" fill="#f4532f"/>
<circle cx="207.73" cy="330.15" r="1.45" fill="#f4532f"/>
<circle cx="209.76" cy="331.31" r="1.45" fill="#f4532f"/>
<circle cx="211.78" cy="330.15" r="1.45" fill="#f4532f"/>
<circle cx="213.80" cy="331.31" r="1.45" fill="#f4532f"/>
<circle cx="215.83" cy="332.86" r="1.45" fill="#f4532f"/>
<circle cx="217.85" cy="330.92" r="1.45" fill="#f4532f"/>
<circle cx="219.87" cy="331.31" r="1.45" fill="#f4532f"/>
<circle cx="221.89" cy="332.08" r="1.45" fill="#f4532f"/>
<circle cx="223.92" cy="332.86" r="1.45" fill="#f4532f"/>
<circle cx="225.94" cy="332.86" r="1.45" fill="#f4532f"/>
<circle cx="227.96" cy="333.63" r="1.45" fill="#f4532f"/>
<circle cx="229.99" cy="333.63" r="1.45" fill="#f4532f"/>
<polyline fill="none" stroke="#2f8585" stroke-opacity="0.55" stroke-width="1.1" stroke-linejoin="round" points="29.71,213.34 31.74,230.74 33.76,297.27 35.78,324.73 37.81,332.08 39.83,334.02 41.85,335.18 43.87,333.24 45.90,316.22 47.92,308.49 49.94,312.94 51.97,332.08 53.99,332.66 56.01,330.15 58.04,328.02 60.06,326.28 62.08,331.31 64.10,324.15 66.13,335.56 68.15,332.08 70.17,326.86 72.20,327.64 74.22,330.92 76.24,329.38 78.26,333.63 80.29,335.95 82.31,334.40 84.33,335.18 86.36,334.40 88.38,332.66 90.40,328.22 92.43,322.03 94.45,335.18 96.47,334.02 98.49,332.47 100.52,333.63 102.54,335.76 104.56,332.47 106.59,303.07 108.61,329.38 110.63,335.18 112.65,333.63 114.68,325.70 116.70,334.02 118.72,331.50 120.75,329.96 122.77,335.18 124.79,336.53 126.82,332.86 128.84,292.05 130.86,328.02 132.88,333.63 134.91,328.99 136.93,326.86 138.95,333.63 140.98,320.67 143.00,328.41 145.02,335.18 147.05,332.08 149.07,326.28 151.09,331.31 153.11,326.28 155.14,327.06 157.16,328.80 159.18,329.96 161.21,331.31 163.23,329.76 165.25,328.99 167.27,326.86 169.30,335.95 171.32,330.54 173.34,328.99 175.37,327.64 177.39,326.09 179.41,330.54 181.44,336.73 183.46,332.86 185.48,327.64 187.50,326.86 189.53,325.31 191.55,328.80 193.57,323.96 195.60,334.02 197.62,329.76 199.64,330.92 201.66,335.18 203.69,328.99 205.71,326.86 207.73,329.76 209.76,326.86 211.78,321.45 213.80,323.38 215.83,333.24 217.85,329.38 219.87,319.13 221.89,322.61 223.92,335.18 225.94,326.86 227.96,329.38 229.99,336.73"/>
<path d="M28.96 212.59L30.46 214.09M28.96 214.09L30.46 212.59M30.99 229.99L32.49 231.49M30.99 231.49L32.49 229.99M33.01 296.52L34.51 298.02M33.01 298.02L34.51 296.52M35.03 323.98L36.53 325.48M35.03 325.48L36.53 323.98M37.06 331.33L38.56 332.83M37.06 332.83L38.56 331.33M39.08 333.27L40.58 334.77M39.08 334.77L40.58 333.27M41.10 334.43L42.60 335.93M41.10 335.93L42.60 334.43M43.12 332.49L44.62 333.99M43.12 333.99L44.62 332.49M45.15 315.47L46.65 316.97M45.15 316.97L46.65 315.47M47.17 307.74L48.67 309.24M47.17 309.24L48.67 307.74M49.19 312.19L50.69 313.69M49.19 313.69L50.69 312.19M51.22 331.33L52.72 332.83M51.22 332.83L52.72 331.33M53.24 331.91L54.74 333.41M53.24 333.41L54.74 331.91M55.26 329.40L56.76 330.90M55.26 330.90L56.76 329.40M57.29 327.27L58.79 328.77M57.29 328.77L58.79 327.27M59.31 325.53L60.81 327.03M59.31 327.03L60.81 325.53M61.33 330.56L62.83 332.06M61.33 332.06L62.83 330.56M63.35 323.40L64.85 324.90M63.35 324.90L64.85 323.40M65.38 334.81L66.88 336.31M65.38 336.31L66.88 334.81M67.40 331.33L68.90 332.83M67.40 332.83L68.90 331.33M69.42 326.11L70.92 327.61M69.42 327.61L70.92 326.11M71.45 326.89L72.95 328.39M71.45 328.39L72.95 326.89M73.47 330.17L74.97 331.67M73.47 331.67L74.97 330.17M75.49 328.63L76.99 330.13M75.49 330.13L76.99 328.63M77.51 332.88L79.01 334.38M77.51 334.38L79.01 332.88M79.54 335.20L81.04 336.70M79.54 336.70L81.04 335.20M81.56 333.65L83.06 335.15M81.56 335.15L83.06 333.65M83.58 334.43L85.08 335.93M83.58 335.93L85.08 334.43M85.61 333.65L87.11 335.15M85.61 335.15L87.11 333.65M87.63 331.91L89.13 333.41M87.63 333.41L89.13 331.91M89.65 327.47L91.15 328.97M89.65 328.97L91.15 327.47M91.68 321.28L93.18 322.78M91.68 322.78L93.18 321.28M93.70 334.43L95.20 335.93M93.70 335.93L95.20 334.43M95.72 333.27L97.22 334.77M95.72 334.77L97.22 333.27M97.74 331.72L99.24 333.22M97.74 333.22L99.24 331.72M99.77 332.88L101.27 334.38M99.77 334.38L101.27 332.88M101.79 335.01L103.29 336.51M101.79 336.51L103.29 335.01M103.81 331.72L105.31 333.22M103.81 333.22L105.31 331.72M105.84 302.32L107.34 303.82M105.84 303.82L107.34 302.32M107.86 328.63L109.36 330.13M107.86 330.13L109.36 328.63M109.88 334.43L111.38 335.93M109.88 335.93L111.38 334.43M111.90 332.88L113.40 334.38M111.90 334.38L113.40 332.88M113.93 324.95L115.43 326.45M113.93 326.45L115.43 324.95M115.95 333.27L117.45 334.77M115.95 334.77L117.45 333.27M117.97 330.75L119.47 332.25M117.97 332.25L119.47 330.75M120.00 329.21L121.50 330.71M120.00 330.71L121.50 329.21M122.02 334.43L123.52 335.93M122.02 335.93L123.52 334.43M124.04 335.78L125.54 337.28M124.04 337.28L125.54 335.78M126.07 332.11L127.57 333.61M126.07 333.61L127.57 332.11M128.09 291.30L129.59 292.80M128.09 292.80L129.59 291.30M130.11 327.27L131.61 328.77M130.11 328.77L131.61 327.27M132.13 332.88L133.63 334.38M132.13 334.38L133.63 332.88M134.16 328.24L135.66 329.74M134.16 329.74L135.66 328.24M136.18 326.11L137.68 327.61M136.18 327.61L137.68 326.11M138.20 332.88L139.70 334.38M138.20 334.38L139.70 332.88M140.23 319.92L141.73 321.42M140.23 321.42L141.73 319.92M142.25 327.66L143.75 329.16M142.25 329.16L143.75 327.66M144.27 334.43L145.77 335.93M144.27 335.93L145.77 334.43M146.30 331.33L147.80 332.83M146.30 332.83L147.80 331.33M148.32 325.53L149.82 327.03M148.32 327.03L149.82 325.53M150.34 330.56L151.84 332.06M150.34 332.06L151.84 330.56M152.36 325.53L153.86 327.03M152.36 327.03L153.86 325.53M154.39 326.31L155.89 327.81M154.39 327.81L155.89 326.31M156.41 328.05L157.91 329.55M156.41 329.55L157.91 328.05M158.43 329.21L159.93 330.71M158.43 330.71L159.93 329.21M160.46 330.56L161.96 332.06M160.46 332.06L161.96 330.56M162.48 329.01L163.98 330.51M162.48 330.51L163.98 329.01M164.50 328.24L166.00 329.74M164.50 329.74L166.00 328.24M166.52 326.11L168.02 327.61M166.52 327.61L168.02 326.11M168.55 335.20L170.05 336.70M168.55 336.70L170.05 335.20M170.57 329.79L172.07 331.29M170.57 331.29L172.07 329.79M172.59 328.24L174.09 329.74M172.59 329.74L174.09 328.24M174.62 326.89L176.12 328.39M174.62 328.39L176.12 326.89M176.64 325.34L178.14 326.84M176.64 326.84L178.14 325.34M178.66 329.79L180.16 331.29M178.66 331.29L180.16 329.79M180.69 335.98L182.19 337.48M180.69 337.48L182.19 335.98M182.71 332.11L184.21 333.61M182.71 333.61L184.21 332.11M184.73 326.89L186.23 328.39M184.73 328.39L186.23 326.89M186.75 326.11L188.25 327.61M186.75 327.61L188.25 326.11M188.78 324.56L190.28 326.06M188.78 326.06L190.28 324.56M190.80 328.05L192.30 329.55M190.80 329.55L192.30 328.05M192.82 323.21L194.32 324.71M192.82 324.71L194.32 323.21M194.85 333.27L196.35 334.77M194.85 334.77L196.35 333.27M196.87 329.01L198.37 330.51M196.87 330.51L198.37 329.01M198.89 330.17L200.39 331.67M198.89 331.67L200.39 330.17M200.91 334.43L202.41 335.93M200.91 335.93L202.41 334.43M202.94 328.24L204.44 329.74M202.94 329.74L204.44 328.24M204.96 326.11L206.46 327.61M204.96 327.61L206.46 326.11M206.98 329.01L208.48 330.51M206.98 330.51L208.48 329.01M209.01 326.11L210.51 327.61M209.01 327.61L210.51 326.11M211.03 320.70L212.53 322.20M211.03 322.20L212.53 320.70M213.05 322.63L214.55 324.13M213.05 324.13L214.55 322.63M215.08 332.49L216.58 333.99M215.08 333.99L216.58 332.49M217.10 328.63L218.60 330.13M217.10 330.13L218.60 328.63M219.12 318.38L220.62 319.88M219.12 319.88L220.62 318.38M221.14 321.86L222.64 323.36M221.14 323.36L222.64 321.86M223.17 334.43L224.67 335.93M223.17 335.93L224.67 334.43M225.19 326.11L226.69 327.61M225.19 327.61L226.69 326.11M227.21 328.63L228.71 330.13M227.21 330.13L228.71 328.63M229.24 335.98L230.74 337.48M229.24 337.48L230.74 335.98" stroke="#2f8585" stroke-width="0.6" fill="none"/>
<rect x="195.4" y="205.3" width="42.400000000000006" height="14.299999999999983" rx="0.8" fill="#fff" fill-opacity="0.85" stroke="#dcdcdc" stroke-width="0.5"/>
<line x1="195.9" y1="208.7" x2="205.2" y2="208.7" stroke="#f4532f" stroke-opacity="0.55" stroke-width="1.1"/>
<circle cx="200.6" cy="208.7" r="1.45" fill="#f4532f"/>
<line x1="195.9" y1="215.1" x2="205.2" y2="215.1" stroke="#2f8585" stroke-opacity="0.55" stroke-width="1.1"/>
<path d="M199.85 214.35L201.35 215.85M199.85 215.85L201.35 214.35" stroke="#2f8585" stroke-width="0.6"/>
<text x="208.50" y="210.09" font-size="4.644" textLength="23.976" lengthAdjust="spacingAndGlyphs">Training loss</text>
<text x="208.50" y="216.49" font-size="4.644" textLength="27.816" lengthAdjust="spacingAndGlyphs">Validation loss</text>
<path d="M19.27 203.30H240.00V343.50H19.27" fill="none" stroke="#a0a0a0" stroke-width="1.15" stroke-linecap="square"/>
<line x1="19.70" y1="202.73" x2="19.70" y2="344.07" stroke="#a0a0a0" stroke-width="0.85"/>
<text x="122.5" y="377.90" text-anchor="middle" style="font-family:'Liberation Serif', serif" font-size="9.9" fill="#111">(<tspan font-weight="bold" style="stroke-width:0.35px">c</tspan>)</text>
<line x1="312.00" y1="343.50" x2="313.50" y2="343.50" stroke="#606060" stroke-width="0.7"/>
<text x="310.20" y="344.61" text-anchor="end" font-size="4.380" textLength="8.127" lengthAdjust="spacingAndGlyphs">0.60</text>
<line x1="312.00" y1="326.64" x2="313.50" y2="326.64" stroke="#606060" stroke-width="0.7"/>
<text x="310.20" y="327.75" text-anchor="end" font-size="4.380" textLength="8.127" lengthAdjust="spacingAndGlyphs">0.65</text>
<line x1="312.00" y1="309.77" x2="313.50" y2="309.77" stroke="#606060" stroke-width="0.7"/>
<text x="310.20" y="310.89" text-anchor="end" font-size="4.380" textLength="8.127" lengthAdjust="spacingAndGlyphs">0.70</text>
<line x1="312.00" y1="292.91" x2="313.50" y2="292.91" stroke="#606060" stroke-width="0.7"/>
<text x="310.20" y="294.03" text-anchor="end" font-size="4.380" textLength="8.127" lengthAdjust="spacingAndGlyphs">0.75</text>
<line x1="312.00" y1="276.05" x2="313.50" y2="276.05" stroke="#606060" stroke-width="0.7"/>
<text x="310.20" y="277.16" text-anchor="end" font-size="4.380" textLength="8.127" lengthAdjust="spacingAndGlyphs">0.80</text>
<line x1="312.00" y1="259.19" x2="313.50" y2="259.19" stroke="#606060" stroke-width="0.7"/>
<text x="310.20" y="260.30" text-anchor="end" font-size="4.380" textLength="8.127" lengthAdjust="spacingAndGlyphs">0.85</text>
<line x1="312.00" y1="242.32" x2="313.50" y2="242.32" stroke="#606060" stroke-width="0.7"/>
<text x="310.20" y="243.44" text-anchor="end" font-size="4.380" textLength="8.127" lengthAdjust="spacingAndGlyphs">0.90</text>
<line x1="312.00" y1="225.46" x2="313.50" y2="225.46" stroke="#606060" stroke-width="0.7"/>
<text x="310.20" y="226.58" text-anchor="end" font-size="4.380" textLength="8.127" lengthAdjust="spacingAndGlyphs">0.95</text>
<line x1="312.00" y1="208.60" x2="313.50" y2="208.60" stroke="#606060" stroke-width="0.7"/>
<text x="310.20" y="209.71" text-anchor="end" font-size="4.380" textLength="8.127" lengthAdjust="spacingAndGlyphs">1.00</text>
<line x1="321.76" y1="344.20" x2="321.76" y2="345.70" stroke="#606060" stroke-width="0.7"/>
<text x="321.76" y="350.71" text-anchor="middle" font-size="4.380" textLength="2.322" lengthAdjust="spacingAndGlyphs">0</text>
<line x1="363.58" y1="344.20" x2="363.58" y2="345.70" stroke="#606060" stroke-width="0.7"/>
<text x="363.58" y="350.71" text-anchor="middle" font-size="4.380" textLength="4.645" lengthAdjust="spacingAndGlyphs">20</text>
<line x1="405.40" y1="344.20" x2="405.40" y2="345.70" stroke="#606060" stroke-width="0.7"/>
<text x="405.40" y="350.71" text-anchor="middle" font-size="4.380" textLength="4.645" lengthAdjust="spacingAndGlyphs">40</text>
<line x1="447.21" y1="344.20" x2="447.21" y2="345.70" stroke="#606060" stroke-width="0.7"/>
<text x="447.21" y="350.71" text-anchor="middle" font-size="4.380" textLength="4.645" lengthAdjust="spacingAndGlyphs">60</text>
<line x1="489.03" y1="344.20" x2="489.03" y2="345.70" stroke="#606060" stroke-width="0.7"/>
<text x="489.03" y="350.71" text-anchor="middle" font-size="4.380" textLength="4.645" lengthAdjust="spacingAndGlyphs">80</text>
<line x1="530.85" y1="344.20" x2="530.85" y2="345.70" stroke="#606060" stroke-width="0.7"/>
<text x="530.85" y="350.71" text-anchor="middle" font-size="4.380" textLength="6.967" lengthAdjust="spacingAndGlyphs">100</text>
<text x="427.35" y="356.78" text-anchor="middle" font-size="4.920" textLength="14.691" lengthAdjust="spacingAndGlyphs">Epochs</text>
<text transform="translate(298.78,274.00) rotate(-90)" text-anchor="middle" font-size="4.920" textLength="18.719" lengthAdjust="spacingAndGlyphs">Accuracy</text>
<text x="427.35" y="199.96" text-anchor="middle" font-size="5.856" textLength="79.136" lengthAdjust="spacingAndGlyphs">Training and validation accuracy</text>
<polyline fill="none" stroke="#f4532f" stroke-opacity="0.55" stroke-width="1.1" stroke-linejoin="round" points="323.85,337.76 325.94,330.33 328.03,282.03 330.12,232.52 332.21,221.64 334.30,217.44 336.40,216.13 338.49,218.36 340.58,219.15 342.67,218.75 344.76,216.26 346.85,220.98 348.94,216.66 351.03,216.13 353.12,215.34 355.21,215.87 357.30,216.92 359.40,216.13 361.49,215.87 363.58,216.13 365.67,215.34 367.76,213.64 369.85,215.61 371.94,218.62 374.03,216.66 376.12,217.70 378.21,215.87 380.30,216.92 382.40,215.34 384.49,214.16 386.58,215.61 388.67,214.95 390.76,214.69 392.85,213.64 394.94,216.39 397.03,214.69 399.12,214.16 401.21,214.69 403.30,218.23 405.40,214.69 407.49,214.69 409.58,212.07 411.67,214.43 413.76,212.33 415.85,213.90 417.94,215.87 420.03,212.85 422.12,212.07 424.21,213.11 426.30,216.39 428.40,213.11 430.49,213.90 432.58,212.33 434.67,215.61 436.76,213.64 438.85,214.69 440.94,212.33 443.03,213.90 445.12,213.64 447.21,212.85 449.30,215.21 451.40,214.69 453.49,212.85 455.58,214.43 457.67,212.85 459.76,211.80 461.85,213.11 463.94,213.64 466.03,213.90 468.12,215.87 470.21,212.85 472.30,213.11 474.40,212.07 476.49,213.11 478.58,211.80 480.67,211.41 482.76,212.85 484.85,213.90 486.94,213.38 489.03,212.59 491.12,214.43 493.21,212.07 495.30,213.90 497.40,212.07 499.49,212.59 501.58,213.64 503.67,212.85 505.76,213.51 507.85,214.43 509.94,213.90 512.03,213.11 514.12,212.59 516.21,211.80 518.30,213.64 520.40,213.11 522.49,212.59 524.58,212.33 526.67,213.11 528.76,212.33 530.85,212.59"/>
<circle cx="323.85" cy="337.76" r="1.45" fill="#f4532f"/>
<circle cx="325.94" cy="330.33" r="1.45" fill="#f4532f"/>
<circle cx="328.03" cy="282.03" r="1.45" fill="#f4532f"/>
<circle cx="330.12" cy="232.52" r="1.45" fill="#f4532f"/>
<circle cx="332.21" cy="221.64" r="1.45" fill="#f4532f"/>
<circle cx="334.30" cy="217.44" r="1.45" fill="#f4532f"/>
<circle cx="336.40" cy="216.13" r="1.45" fill="#f4532f"/>
<circle cx="338.49" cy="218.36" r="1.45" fill="#f4532f"/>
<circle cx="340.58" cy="219.15" r="1.45" fill="#f4532f"/>
<circle cx="342.67" cy="218.75" r="1.45" fill="#f4532f"/>
<circle cx="344.76" cy="216.26" r="1.45" fill="#f4532f"/>
<circle cx="346.85" cy="220.98" r="1.45" fill="#f4532f"/>
<circle cx="348.94" cy="216.66" r="1.45" fill="#f4532f"/>
<circle cx="351.03" cy="216.13" r="1.45" fill="#f4532f"/>
<circle cx="353.12" cy="215.34" r="1.45" fill="#f4532f"/>
<circle cx="355.21" cy="215.87" r="1.45" fill="#f4532f"/>
<circle cx="357.30" cy="216.92" r="1.45" fill="#f4532f"/>
<circle cx="359.40" cy="216.13" r="1.45" fill="#f4532f"/>
<circle cx="361.49" cy="215.87" r="1.45" fill="#f4532f"/>
<circle cx="363.58" cy="216.13" r="1.45" fill="#f4532f"/>
<circle cx="365.67" cy="215.34" r="1.45" fill="#f4532f"/>
<circle cx="367.76" cy="213.64" r="1.45" fill="#f4532f"/>
<circle cx="369.85" cy="215.61" r="1.45" fill="#f4532f"/>
<circle cx="371.94" cy="218.62" r="1.45" fill="#f4532f"/>
<circle cx="374.03" cy="216.66" r="1.45" fill="#f4532f"/>
<circle cx="376.12" cy="217.70" r="1.45" fill="#f4532f"/>
<circle cx="378.21" cy="215.87" r="1.45" fill="#f4532f"/>
<circle cx="380.30" cy="216.92" r="1.45" fill="#f4532f"/>
<circle cx="382.40" cy="215.34" r="1.45" fill="#f4532f"/>
<circle cx="384.49" cy="214.16" r="1.45" fill="#f4532f"/>
<circle cx="386.58" cy="215.61" r="1.45" fill="#f4532f"/>
<circle cx="388.67" cy="214.95" r="1.45" fill="#f4532f"/>
<circle cx="390.76" cy="214.69" r="1.45" fill="#f4532f"/>
<circle cx="392.85" cy="213.64" r="1.45" fill="#f4532f"/>
<circle cx="394.94" cy="216.39" r="1.45" fill="#f4532f"/>
<circle cx="397.03" cy="214.69" r="1.45" fill="#f4532f"/>
<circle cx="399.12" cy="214.16" r="1.45" fill="#f4532f"/>
<circle cx="401.21" cy="214.69" r="1.45" fill="#f4532f"/>
<circle cx="403.30" cy="218.23" r="1.45" fill="#f4532f"/>
<circle cx="405.40" cy="214.69" r="1.45" fill="#f4532f"/>
<circle cx="407.49" cy="214.69" r="1.45" fill="#f4532f"/>
<circle cx="409.58" cy="212.07" r="1.45" fill="#f4532f"/>
<circle cx="411.67" cy="214.43" r="1.45" fill="#f4532f"/>
<circle cx="413.76" cy="212.33" r="1.45" fill="#f4532f"/>
<circle cx="415.85" cy="213.90" r="1.45" fill="#f4532f"/>
<circle cx="417.94" cy="215.87" r="1.45" fill="#f4532f"/>
<circle cx="420.03" cy="212.85" r="1.45" fill="#f4532f"/>
<circle cx="422.12" cy="212.07" r="1.45" fill="#f4532f"/>
<circle cx="424.21" cy="213.11" r="1.45" fill="#f4532f"/>
<circle cx="426.30" cy="216.39" r="1.45" fill="#f4532f"/>
<circle cx="428.40" cy="213.11" r="1.45" fill="#f4532f"/>
<circle cx="430.49" cy="213.90" r="1.45" fill="#f4532f"/>
<circle cx="432.58" cy="212.33" r="1.45" fill="#f4532f"/>
<circle cx="434.67" cy="215.61" r="1.45" fill="#f4532f"/>
<circle cx="436.76" cy="213.64" r="1.45" fill="#f4532f"/>
<circle cx="438.85" cy="214.69" r="1.45" fill="#f4532f"/>
<circle cx="440.94" cy="212.33" r="1.45" fill="#f4532f"/>
<circle cx="443.03" cy="213.90" r="1.45" fill="#f4532f"/>
<circle cx="445.12" cy="213.64" r="1.45" fill="#f4532f"/>
<circle cx="447.21" cy="212.85" r="1.45" fill="#f4532f"/>
<circle cx="449.30" cy="215.21" r="1.45" fill="#f4532f"/>
<circle cx="451.40" cy="214.69" r="1.45" fill="#f4532f"/>
<circle cx="453.49" cy="212.85" r="1.45" fill="#f4532f"/>
<circle cx="455.58" cy="214.43" r="1.45" fill="#f4532f"/>
<circle cx="457.67" cy="212.85" r="1.45" fill="#f4532f"/>
<circle cx="459.76" cy="211.80" r="1.45" fill="#f4532f"/>
<circle cx="461.85" cy="213.11" r="1.45" fill="#f4532f"/>
<circle cx="463.94" cy="213.64" r="1.45" fill="#f4532f"/>
<circle cx="466.03" cy="213.90" r="1.45" fill="#f4532f"/>
<circle cx="468.12" cy="215.87" r="1.45" fill="#f4532f"/>
<circle cx="470.21" cy="212.85" r="1.45" fill="#f4532f"/>
<circle cx="472.30" cy="213.11" r="1.45" fill="#f4532f"/>
<circle cx="474.40" cy="212.07" r="1.45" fill="#f4532f"/>
<circle cx="476.49" cy="213.11" r="1.45" fill="#f4532f"/>
<circle cx="478.58" cy="211.80" r="1.45" fill="#f4532f"/>
<circle cx="480.67" cy="211.41" r="1.45" fill="#f4532f"/>
<circle cx="482.76" cy="212.85" r="1.45" fill="#f4532f"/>
<circle cx="484.85" cy="213.90" r="1.45" fill="#f4532f"/>
<circle cx="486.94" cy="213.38" r="1.45" fill="#f4532f"/>
<circle cx="489.03" cy="212.59" r="1.45" fill="#f4532f"/>
<circle cx="491.12" cy="214.43" r="1.45" fill="#f4532f"/>
<circle cx="493.21" cy="212.07" r="1.45" fill="#f4532f"/>
<circle cx="495.30" cy="213.90" r="1.45" fill="#f4532f"/>
<circle cx="497.40" cy="212.07" r="1.45" fill="#f4532f"/>
<circle cx="499.49" cy="212.59" r="1.45" fill="#f4532f"/>
<circle cx="501.58" cy="213.64" r="1.45" fill="#f4532f"/>
<circle cx="503.67" cy="212.85" r="1.45" fill="#f4532f"/>
<circle cx="505.76" cy="213.51" r="1.45" fill="#f4532f"/>
<circle cx="507.85" cy="214.43" r="1.45" fill="#f4532f"/>
<circle cx="509.94" cy="213.90" r="1.45" fill="#f4532f"/>
<circle cx="512.03" cy="213.11" r="1.45" fill="#f4532f"/>
<circle cx="514.12" cy="212.59" r="1.45" fill="#f4532f"/>
<circle cx="516.21" cy="211.80" r="1.45" fill="#f4532f"/>
<circle cx="518.30" cy="213.64" r="1.45" fill="#f4532f"/>
<circle cx="520.40" cy="213.11" r="1.45" fill="#f4532f"/>
<circle cx="522.49" cy="212.59" r="1.45" fill="#f4532f"/>
<circle cx="524.58" cy="212.33" r="1.45" fill="#f4532f"/>
<circle cx="526.67" cy="213.11" r="1.45" fill="#f4532f"/>
<circle cx="528.76" cy="212.33" r="1.45" fill="#f4532f"/>
<circle cx="530.85" cy="212.59" r="1.45" fill="#f4532f"/>
<polyline fill="none" stroke="#2f8585" stroke-opacity="0.55" stroke-width="1.1" stroke-linejoin="round" points="323.85,333.71 325.94,326.61 328.03,222.30 330.12,217.97 332.21,208.92 334.30,208.52 336.40,208.92 338.49,211.15 340.58,220.98 342.67,226.23 344.76,223.08 346.85,215.48 348.94,213.51 351.03,217.05 353.12,213.64 355.21,217.97 357.30,214.69 359.40,218.49 361.49,208.79 363.58,214.69 365.67,218.49 367.76,217.18 369.85,214.69 371.94,216.13 374.03,213.11 376.12,208.52 378.21,208.52 380.30,208.52 382.40,208.52 384.49,209.05 386.58,214.69 388.67,222.03 390.76,208.52 392.85,209.05 394.94,214.69 397.03,214.43 399.12,213.11 401.21,213.90 403.30,241.31 405.40,213.90 407.49,212.59 409.58,209.05 411.67,213.64 413.76,212.33 415.85,216.13 417.94,214.43 420.03,208.52 422.12,208.52 424.21,208.79 426.30,242.62 428.40,212.59 430.49,209.05 432.58,213.64 434.67,213.90 436.76,211.41 438.85,216.39 440.94,212.59 443.03,212.85 445.12,209.31 447.21,212.59 449.30,209.31 451.40,218.49 453.49,213.77 455.58,212.59 457.67,214.16 459.76,213.11 461.85,214.16 463.94,211.80 466.03,211.15 468.12,209.05 470.21,213.64 472.30,214.16 474.40,213.90 476.49,213.64 478.58,213.11 480.67,212.98 482.76,211.15 484.85,217.44 486.94,213.90 489.03,212.59 491.12,209.05 493.21,216.39 495.30,212.59 497.40,214.16 499.49,212.59 501.58,211.15 503.67,213.11 505.76,212.85 507.85,210.49 509.94,213.11 512.03,213.90 514.12,213.64 516.21,213.90 518.30,214.69 520.40,222.03 522.49,215.61 524.58,208.39 526.67,214.69 528.76,212.59 530.85,208.13"/>
<path d="M323.10 332.96L324.60 334.46M323.10 334.46L324.60 332.96M325.19 325.86L326.69 327.36M325.19 327.36L326.69 325.86M327.28 221.55L328.78 223.05M327.28 223.05L328.78 221.55M329.37 217.22L330.87 218.72M329.37 218.72L330.87 217.22M331.46 208.17L332.96 209.67M331.46 209.67L332.96 208.17M333.55 207.77L335.05 209.27M333.55 209.27L335.05 207.77M335.65 208.17L337.15 209.67M335.65 209.67L337.15 208.17M337.74 210.40L339.24 211.90M337.74 211.90L339.24 210.40M339.83 220.23L341.33 221.73M339.83 221.73L341.33 220.23M341.92 225.48L343.42 226.98M341.92 226.98L343.42 225.48M344.01 222.33L345.51 223.83M344.01 223.83L345.51 222.33M346.10 214.73L347.60 216.23M346.10 216.23L347.60 214.73M348.19 212.76L349.69 214.26M348.19 214.26L349.69 212.76M350.28 216.30L351.78 217.80M350.28 217.80L351.78 216.30M352.37 212.89L353.87 214.39M352.37 214.39L353.87 212.89M354.46 217.22L355.96 218.72M354.46 218.72L355.96 217.22M356.55 213.94L358.05 215.44M356.55 215.44L358.05 213.94M358.65 217.74L360.15 219.24M358.65 219.24L360.15 217.74M360.74 208.04L362.24 209.54M360.74 209.54L362.24 208.04M362.83 213.94L364.33 215.44M362.83 215.44L364.33 213.94M364.92 217.74L366.42 219.24M364.92 219.24L366.42 217.74M367.01 216.43L368.51 217.93M367.01 217.93L368.51 216.43M369.10 213.94L370.60 215.44M369.10 215.44L370.60 213.94M371.19 215.38L372.69 216.88M371.19 216.88L372.69 215.38M373.28 212.36L374.78 213.86M373.28 213.86L374.78 212.36M375.37 207.77L376.87 209.27M375.37 209.27L376.87 207.77M377.46 207.77L378.96 209.27M377.46 209.27L378.96 207.77M379.55 207.77L381.05 209.27M379.55 209.27L381.05 207.77M381.65 207.77L383.15 209.27M381.65 209.27L383.15 207.77M383.74 208.30L385.24 209.80M383.74 209.80L385.24 208.30M385.83 213.94L387.33 215.44M385.83 215.44L387.33 213.94M387.92 221.28L389.42 222.78M387.92 222.78L389.42 221.28M390.01 207.77L391.51 209.27M390.01 209.27L391.51 207.77M392.10 208.30L393.60 209.80M392.10 209.80L393.60 208.30M394.19 213.94L395.69 215.44M394.19 215.44L395.69 213.94M396.28 213.68L397.78 215.18M396.28 215.18L397.78 213.68M398.37 212.36L399.87 213.86M398.37 213.86L399.87 212.36M400.46 213.15L401.96 214.65M400.46 214.65L401.96 213.15M402.55 240.56L404.05 242.06M402.55 242.06L404.05 240.56M404.65 213.15L406.15 214.65M404.65 214.65L406.15 213.15M406.74 211.84L408.24 213.34M406.74 213.34L408.24 211.84M408.83 208.30L410.33 209.80M408.83 209.80L410.33 208.30M410.92 212.89L412.42 214.39M410.92 214.39L412.42 212.89M413.01 211.58L414.51 213.08M413.01 213.08L414.51 211.58M415.10 215.38L416.60 216.88M415.10 216.88L416.60 215.38M417.19 213.68L418.69 215.18M417.19 215.18L418.69 213.68M419.28 207.77L420.78 209.27M419.28 209.27L420.78 207.77M421.37 207.77L422.87 209.27M421.37 209.27L422.87 207.77M423.46 208.04L424.96 209.54M423.46 209.54L424.96 208.04M425.55 241.87L427.05 243.37M425.55 243.37L427.05 241.87M427.65 211.84L429.15 213.34M427.65 213.34L429.15 211.84M429.74 208.30L431.24 209.80M429.74 209.80L431.24 208.30M431.83 212.89L433.33 214.39M431.83 214.39L433.33 212.89M433.92 213.15L435.42 214.65M433.92 214.65L435.42 213.15M436.01 210.66L437.51 212.16M436.01 212.16L437.51 210.66M438.10 215.64L439.60 217.14M438.10 217.14L439.60 215.64M440.19 211.84L441.69 213.34M440.19 213.34L441.69 211.84M442.28 212.10L443.78 213.60M442.28 213.60L443.78 212.10M444.37 208.56L445.87 210.06M444.37 210.06L445.87 208.56M446.46 211.84L447.96 213.34M446.46 213.34L447.96 211.84M448.55 208.56L450.05 210.06M448.55 210.06L450.05 208.56M450.65 217.74L452.15 219.24M450.65 219.24L452.15 217.74M452.74 213.02L454.24 214.52M452.74 214.52L454.24 213.02M454.83 211.84L456.33 213.34M454.83 213.34L456.33 211.84M456.92 213.41L458.42 214.91M456.92 214.91L458.42 213.41M459.01 212.36L460.51 213.86M459.01 213.86L460.51 212.36M461.10 213.41L462.60 214.91M461.10 214.91L462.60 213.41M463.19 211.05L464.69 212.55M463.19 212.55L464.69 211.05M465.28 210.40L466.78 211.90M465.28 211.90L466.78 210.40M467.37 208.30L468.87 209.80M467.37 209.80L468.87 208.30M469.46 212.89L470.96 214.39M469.46 214.39L470.96 212.89M471.55 213.41L473.05 214.91M471.55 214.91L473.05 213.41M473.65 213.15L475.15 214.65M473.65 214.65L475.15 213.15M475.74 212.89L477.24 214.39M475.74 214.39L477.24 212.89M477.83 212.36L479.33 213.86M477.83 213.86L479.33 212.36M479.92 212.23L481.42 213.73M479.92 213.73L481.42 212.23M482.01 210.40L483.51 211.90M482.01 211.90L483.51 210.40M484.10 216.69L485.60 218.19M484.10 218.19L485.60 216.69M486.19 213.15L487.69 214.65M486.19 214.65L487.69 213.15M488.28 211.84L489.78 213.34M488.28 213.34L489.78 211.84M490.37 208.30L491.87 209.80M490.37 209.80L491.87 208.30M492.46 215.64L493.96 217.14M492.46 217.14L493.96 215.64M494.55 211.84L496.05 213.34M494.55 213.34L496.05 211.84M496.65 213.41L498.15 214.91M496.65 214.91L498.15 213.41M498.74 211.84L500.24 213.34M498.74 213.34L500.24 211.84M500.83 210.40L502.33 211.90M500.83 211.90L502.33 210.40M502.92 212.36L504.42 213.86M502.92 213.86L504.42 212.36M505.01 212.10L506.51 213.60M505.01 213.60L506.51 212.10M507.10 209.74L508.60 211.24M507.10 211.24L508.60 209.74M509.19 212.36L510.69 213.86M509.19 213.86L510.69 212.36M511.28 213.15L512.78 214.65M511.28 214.65L512.78 213.15M513.37 212.89L514.87 214.39M513.37 214.39L514.87 212.89M515.46 213.15L516.96 214.65M515.46 214.65L516.96 213.15M517.55 213.94L519.05 215.44M517.55 215.44L519.05 213.94M519.65 221.28L521.15 222.78M519.65 222.78L521.15 221.28M521.74 214.86L523.24 216.36M521.74 216.36L523.24 214.86M523.83 207.64L525.33 209.14M523.83 209.14L525.33 207.64M525.92 213.94L527.42 215.44M525.92 215.44L527.42 213.94M528.01 211.84L529.51 213.34M528.01 213.34L529.51 211.84M530.10 207.38L531.60 208.88M530.10 208.88L531.60 207.38" stroke="#2f8585" stroke-width="0.6" fill="none"/>
<rect x="496.2" y="327.8" width="42.599999999999966" height="14.699999999999989" rx="0.8" fill="#fff" fill-opacity="0.85" stroke="#dcdcdc" stroke-width="0.5"/>
<line x1="497.2" y1="331.5" x2="506.0" y2="331.5" stroke="#f4532f" stroke-opacity="0.55" stroke-width="1.1"/>
<circle cx="501.8" cy="331.5" r="1.45" fill="#f4532f"/>
<line x1="497.2" y1="338.0" x2="506.0" y2="338.0" stroke="#2f8585" stroke-opacity="0.55" stroke-width="1.1"/>
<path d="M501.05 337.25L502.55 338.75M501.05 338.75L502.55 337.25" stroke="#2f8585" stroke-width="0.6"/>
<text x="509.00" y="332.94" font-size="4.800" textLength="23.905" lengthAdjust="spacingAndGlyphs">Training acc</text>
<text x="509.00" y="339.44" font-size="4.800" textLength="27.873" lengthAdjust="spacingAndGlyphs">Validation acc</text>
<path d="M312.93 202.40H541.20V344.20H312.93" fill="none" stroke="#a0a0a0" stroke-width="1.15" stroke-linecap="square"/>
<line x1="313.50" y1="201.83" x2="313.50" y2="344.77" stroke="#a0a0a0" stroke-width="1.15"/>
<text x="419.0" y="377.40" text-anchor="middle" style="font-family:'Liberation Serif', serif" font-size="9.9" fill="#111">(<tspan font-weight="bold" style="stroke-width:0.35px">d</tspan>)</text>
</svg>
</body></html>
